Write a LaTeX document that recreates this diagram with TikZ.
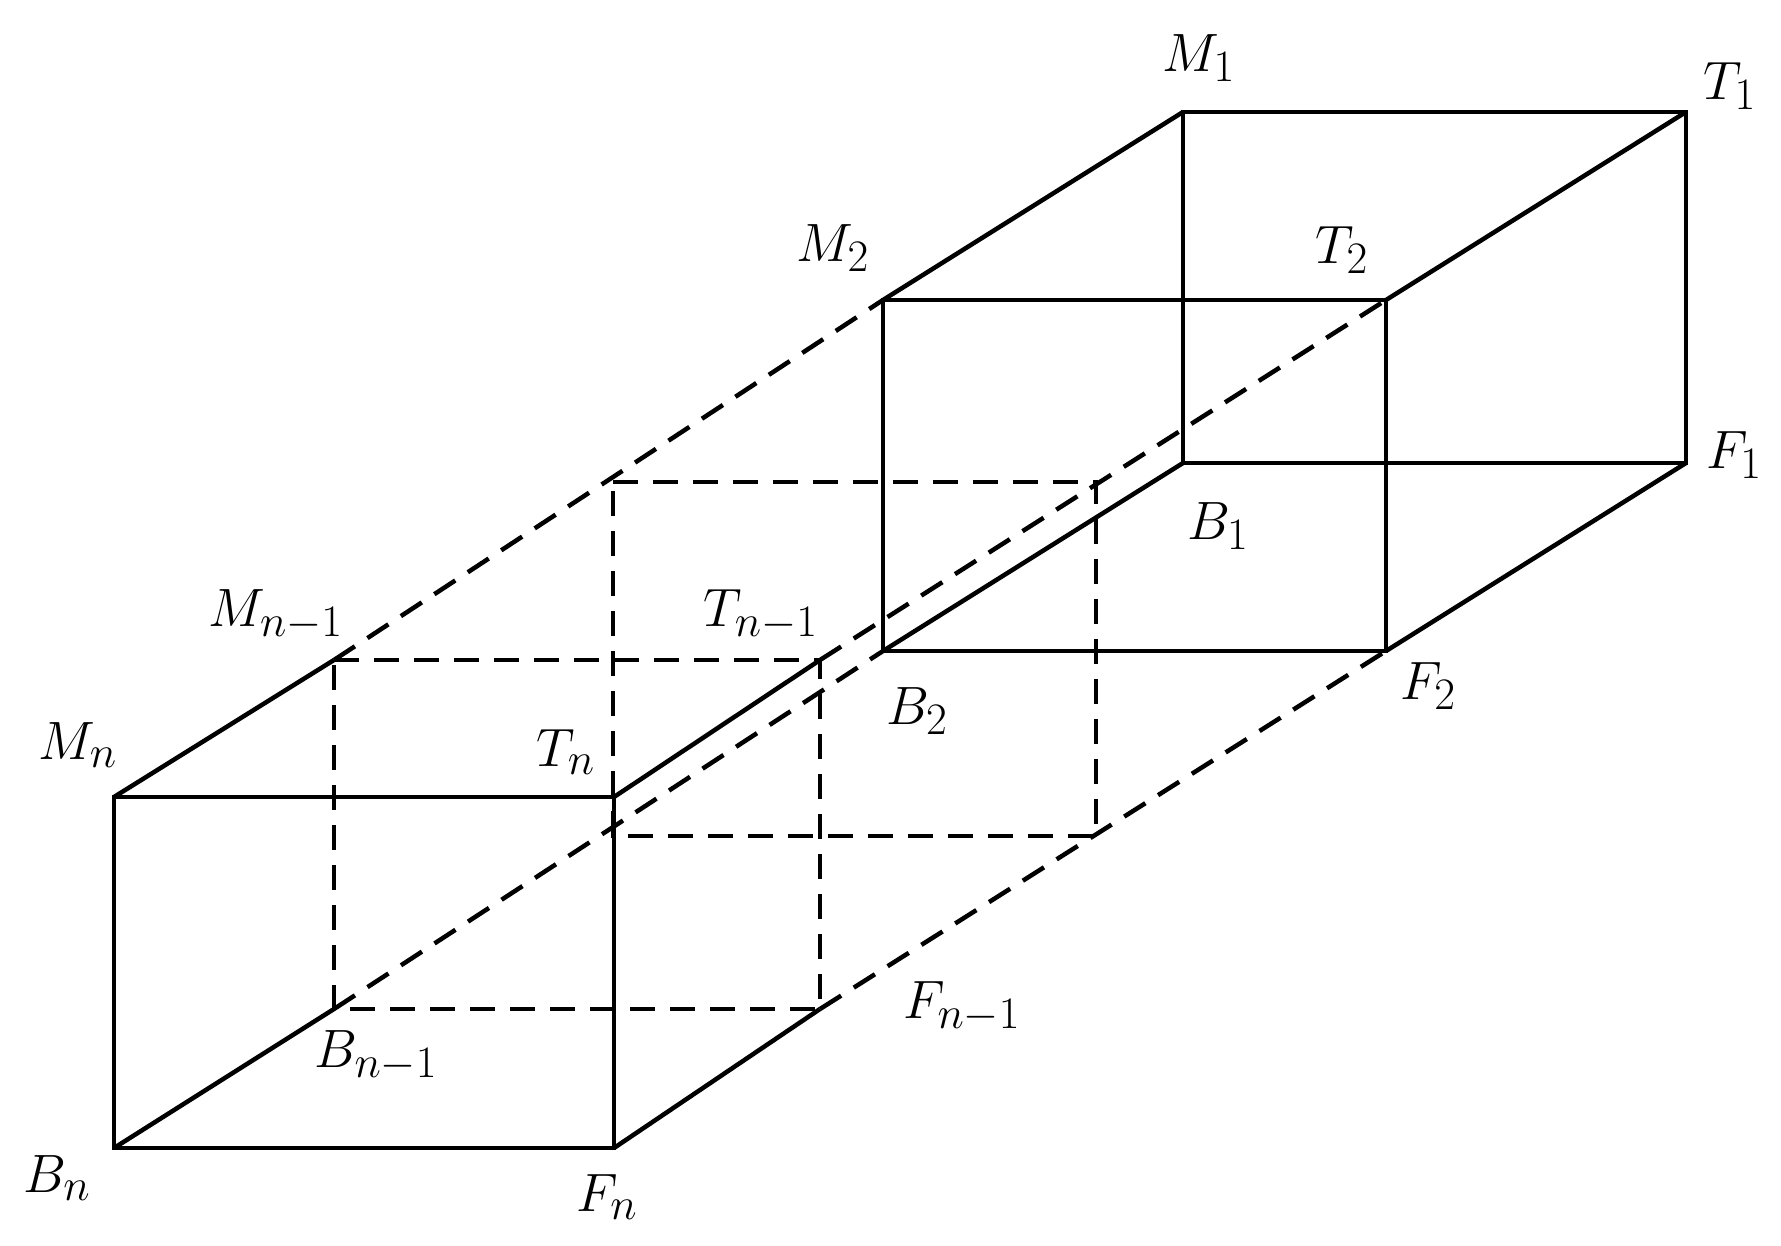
\documentclass[tikz,border=0pt]{standalone}
\begin{document}
\begin{tikzpicture}[x=1pt,y=-1pt,
  edge/.style={line width=4.5pt},
  hidden/.style={line width=4.5pt, dash pattern=on 25pt off 15pt},
  lbl/.style={font=\Huge, inner sep=0pt, scale=2.17, transform shape}]
\useasboundingbox (0,0) rectangle (1781,1246);
% cube 1
\coordinate (M1) at (1183,112);
\coordinate (T1) at (1686,112);
\coordinate (F1) at (1686,463);
\coordinate (B1) at (1183,463);
% cube 2
\coordinate (M2) at (883,300);
\coordinate (T2) at (1386,300);
\coordinate (F2) at (1386,651);
\coordinate (B2) at (883,651);
% cube n
\coordinate (Mn) at (114,797);
\coordinate (Tn) at (614,797);
\coordinate (Fn) at (614,1148);
\coordinate (Bn) at (114,1148);
% cube n-1
\coordinate (Mm) at (334,660);
\coordinate (Tm) at (820,660);
\coordinate (Fm) at (820,1009);
\coordinate (Bm) at (334,1009);
% intermediate hidden box
\coordinate (Q1) at (613,482);
\coordinate (Q2) at (1096,482);
\coordinate (Q3) at (1096,836);
\coordinate (Q4) at (613,836);

% hidden edges
\draw[hidden] (Mm) -- (Tm) -- (Fm) -- (Bm) -- cycle;
\draw[hidden] (Q1) -- (Q2) -- (Q3) -- (Q4) -- cycle;
\draw[hidden] (Mm) -- (M2);
\draw[hidden] (Tm) -- (T2);
\draw[hidden] (Fm) -- (F2);
\draw[hidden] (Bm) -- (B2);

% visible edges
\draw[edge] (M1) -- (T1) -- (F1) -- (B1) -- cycle;
\draw[edge] (M2) -- (T2) -- (F2) -- (B2) -- cycle;
\draw[edge] (Mn) -- (Tn) -- (Fn) -- (Bn) -- cycle;
\draw[edge] (M2) -- (M1);
\draw[edge] (T2) -- (T1);
\draw[edge] (F2) -- (F1);
\draw[edge] (B2) -- (B1);
\draw[edge] (Mn) -- (Mm);
\draw[edge] (Tn) -- (Tm);
\draw[edge] (Fn) -- (Fm);
\draw[edge] (Bn) -- (Bm);

% labels
\node[lbl] (lM1) at (1199,58) {$M_1$};
\node[lbl] (lT1) at (1730,86) {$T_1$};
\node[lbl] (lT2) at (1342,250) {$T_2$};
\node[lbl] (lF1) at (1734,455) {$F_1$};
\node[lbl] (lB1) at (1218,526) {$B_1$};
\node[lbl] (lM2) at (833,248) {$M_2$};
\node[lbl] (lF2) at (1428,686) {$F_2$};
\node[lbl] (lB2) at (917,711) {$B_2$};
\node[lbl] (lMm) at (276,615) {$M_{n-1}$};
\node[lbl] (lTm) at (761,615) {$T_{n-1}$};
\node[lbl] (lMn) at (78,745) {$M_n$};
\node[lbl] (lTn) at (566,752) {$T_n$};
\node[lbl] (lFm) at (962,1007) {$F_{n-1}$};
\node[lbl] (lBm) at (376,1056) {$B_{n-1}$};
\node[lbl] (lBn) at (57,1178) {$B_n$};
\node[lbl] (lFn) at (607,1197) {$F_n$};
\end{tikzpicture}
\end{document}
